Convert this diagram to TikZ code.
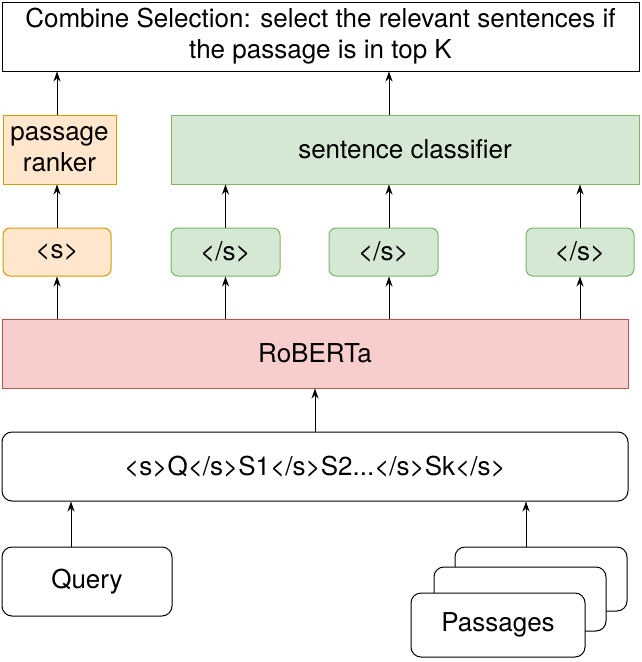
\documentclass[tikz,border=0pt]{standalone}
\usepackage{fontspec}
\setmainfont{TeX Gyre Heros}
\usetikzlibrary{arrows.meta}
\definecolor{rankfill}{HTML}{FFE6CC}
\definecolor{rankdraw}{HTML}{D79B00}
\definecolor{clsfill}{HTML}{D5E8D4}
\definecolor{clsdraw}{HTML}{82B366}
\definecolor{encfill}{HTML}{F8CECC}
\definecolor{encdraw}{HTML}{B85450}

\begin{document}
\begin{tikzpicture}[x=1pt,y=-1pt,
    every node/.style={font=\fontsize{26}{31}\selectfont, line width=1pt, inner sep=0pt, align=center},
    plain/.style={draw=black, fill=white},
    tok/.style={rounded corners=7pt, minimum height=48pt},
    ranknode/.style={draw=rankdraw, fill=rankfill},
    clsnode/.style={draw=clsdraw, fill=clsfill},
    arr/.style={-{Stealth[length=10pt,width=7pt]}, line width=0.9pt}]
\useasboundingbox (0,0) rectangle (641,662);
\node[plain, minimum width=637pt, minimum height=69pt] (combine) at (320.5,36.5)
  {Combine Selection: select the relevant sentences if\\the passage is in top K};
\node[ranknode, minimum width=113pt, minimum height=69pt] (ranker) at (59.5,149.5) {passage\\ranker};
\node[clsnode, minimum width=468pt, minimum height=69pt] (classifier) at (405,149.5) {sentence classifier};
\node[ranknode, tok, minimum width=108pt] (cls) at (57,252) {<s>};
\node[clsnode, tok, minimum width=109pt] (sepa) at (225.5,252) {</s>};
\node[clsnode, tok, minimum width=109pt] (sepb) at (383.5,252) {</s>};
\node[clsnode, tok, minimum width=108pt] (sepc) at (580,252) {</s>};
\node[draw=encdraw, fill=encfill, minimum width=626pt, minimum height=69pt] (roberta) at (315,353.5) {RoBERTa};
\node[plain, rounded corners=10pt, minimum width=626pt, minimum height=69pt] (seq) at (315,466.5)
  {<s>Q</s>S1</s>S2...</s>Sk</s>};
\node[plain, rounded corners=10pt, minimum width=170pt, minimum height=69pt] (query) at (87,581.5) {Query};
\node[plain, rounded corners=10pt, minimum width=172pt, minimum height=64pt] (passc) at (541,579) {};
\node[plain, rounded corners=10pt, minimum width=172pt, minimum height=64pt] (passb) at (520,599) {};
\node[plain, rounded corners=10pt, minimum width=174pt, minimum height=64pt] (passa) at (498,625) {Passages};

\draw[arr] ([xshift=-16pt]query.north) -- ([xshift=-16pt]query.north |- seq.south);
\draw[arr] ([xshift=-15pt]passc.north) -- ([xshift=-15pt]passc.north |- seq.south);
\draw[arr] (seq.north) -- (roberta.south);
\draw[arr] (roberta.north -| cls) -- (cls.south);
\draw[arr] (roberta.north -| sepa) -- (sepa.south);
\draw[arr] ([xshift=5.5pt]roberta.north -| sepb) -- ([xshift=5.5pt]sepb.south);
\draw[arr] (roberta.north -| sepc) -- (sepc.south);
\draw[arr] (cls.north) -- (ranker.south -| cls);
\draw[arr] (sepa.north) -- (classifier.south -| sepa);
\draw[arr] ([xshift=5.5pt]sepb.north) -- ([xshift=5.5pt]classifier.south -| sepb);
\draw[arr] (sepc.north) -- (classifier.south -| sepc);
\draw[arr] (ranker.north -| cls) -- (combine.south -| cls);
\draw[arr] ([xshift=5.5pt]classifier.north -| sepb) -- ([xshift=5.5pt]combine.south -| sepb);
\end{tikzpicture}
\end{document}
